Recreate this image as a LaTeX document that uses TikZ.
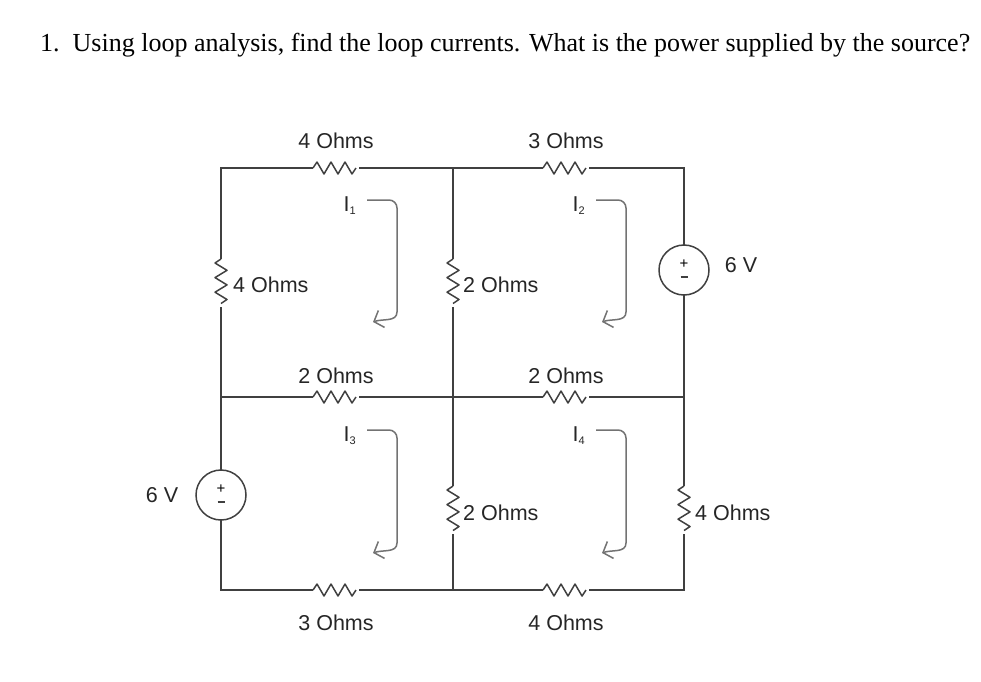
\documentclass[tikz,border=0pt]{standalone}
\usepackage{fontspec}
\setmainfont{Liberation Serif}
\newfontfamily\arial{Liberation Sans}
\usetikzlibrary{arrows.meta}
\tikzset{wire/.style={draw=black!75,line width=1.5pt},
 lbl/.style={font=\arial\fontsize{21.5}{24}\selectfont,text=black!85,inner sep=0pt},
 loopar/.style={draw=black!55,line width=1.5pt,-{Straight Barb[length=8pt,width=18pt]}}}
\newcommand\hres[2]{\fill[white] (#1-23,#2-7) rectangle (#1+23,#2+7);
 \draw[wire,line join=round] (#1-23,#2) -- ++(4,-6) -- ++(7,12) -- ++(7,-12) -- ++(7,12) -- ++(7,-12) -- ++(7,12) -- ++(4,-6);}
\newcommand\vres[2]{\fill[white] (#1-7,#2-24) rectangle (#1+7,#2+24);
 \draw[wire,line join=round] (#1,#2-24) -- ++(-6,4) -- ++(12,7.3) -- ++(-12,7.3) -- ++(12,7.3) -- ++(-12,7.3) -- ++(12,7.3) -- ++(-6,4);}
\newcommand\src[3]{\node[circle,draw=black!75,line width=1.5pt,fill=white,minimum size=50pt,inner sep=0pt] (#3) at (#1,#2) {};
 \node[font=\arial\fontsize{15}{15}\selectfont,inner sep=0pt] at (#1,#2-6) {+};
 \draw[black!75,line width=1.2pt] (#1-3.5,#2+7) -- (#1+3.5,#2+7);}
\newcommand\lp[4]{\node[lbl] (#4) at (#1-47,#2+6) {I\textsubscript{\fontsize{11}{11}\selectfont #4}};
 \draw[loopar] (#1-30,#2) -- (#1-8,#2) to[out=0,in=90] (#1,#2+8) -- (#1,#3-10) to[out=-90,in=20] (#1-24,#3);}
\begin{document}
\begin{tikzpicture}[x=1pt,y=-1pt]
\useasboundingbox (0,0) rectangle (981,681);
\node[font=\fontsize{26}{30}\selectfont,anchor=west,inner sep=0pt] (title) at (40,45) {1.\ \ Using loop analysis, find the loop currents. What is the power supplied by the source?};
\coordinate (A) at (221,168); \coordinate (B) at (453,168); \coordinate (C) at (684,168);
\coordinate (D) at (221,397); \coordinate (E) at (453,397); \coordinate (F) at (684,397);
\coordinate (G) at (221,590); \coordinate (H) at (453,590); \coordinate (K) at (684,590);
\draw[wire] (A) -- (C) -- (K) -- (G) -- cycle;
\draw[wire] (B) -- (H);
\draw[wire] (D) -- (F);
\hres{336}{168}\hres{566}{168}\hres{336}{397}\hres{566}{397}\hres{336}{590}\hres{566}{590}
\vres{221}{283}\vres{453}{283}\vres{453}{510}\vres{684}{510}
\src{221}{495}{s1}\src{684}{270}{s2}
\node[lbl] at (336,141) {4 Ohms};
\node[lbl] at (566,141) {3 Ohms};
\node[lbl,anchor=west] at (233,285) {4 Ohms};
\node[lbl,anchor=west] at (463,285) {2 Ohms};
\node[lbl] at (336,376) {2 Ohms};
\node[lbl] at (566,376) {2 Ohms};
\node[lbl,anchor=west] at (463,513) {2 Ohms};
\node[lbl,anchor=west] at (695,513) {4 Ohms};
\node[lbl] at (336,623) {3 Ohms};
\node[lbl] at (566,623) {4 Ohms};
\node[lbl] at (162,495) {6 V};
\node[lbl] at (741,265) {6 V};
\lp{397}{200}{322}{1}
\lp{626}{200}{322}{2}
\lp{397}{430}{553}{3}
\lp{626}{430}{553}{4}
\end{tikzpicture}
\end{document}
